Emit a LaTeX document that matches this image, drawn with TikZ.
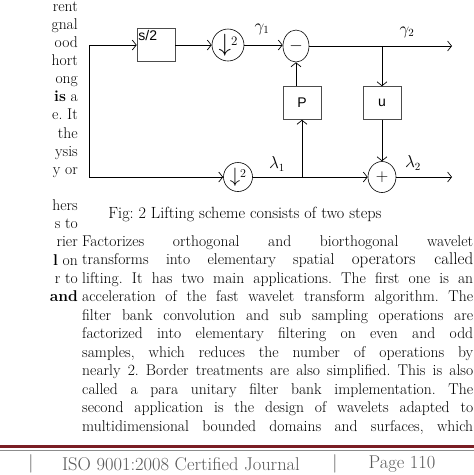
\documentclass[tikz,border=0pt]{standalone}
\usepackage{fontspec}
\newfontfamily\arialf{Liberation Sans}
\usetikzlibrary{shapes.geometric, arrows.meta, positioning, calc}
\definecolor{footred}{RGB}{122,30,36}
\definecolor{footgray}{RGB}{88,88,88}
\definecolor{rulegray}{RGB}{140,140,140}
\frenchspacing

\begin{document}
\begin{tikzpicture}[
        x=1pt, y=-1pt,
        box/.style={rectangle, draw=black!70, line width=0.6pt, minimum width=38pt, minimum height=33pt, inner sep=0pt, font=\arialf\fontsize{14}{14}\selectfont},
        samp/.style={circle, draw, line width=0.6pt, inner sep=0pt},
        sumnode/.style={ellipse, draw, line width=0.6pt, inner sep=0pt},
        arrow/.style={-{Straight Barb[length=4pt,width=10pt]}, line width=0.7pt},
        wire/.style={line width=0.7pt},
        sig/.style={font=\fontsize{16}{16}\selectfont, inner sep=0pt},
        txt/.style={font=\fontsize{15.6}{15.6}\selectfont, inner sep=0pt},
        foot/.style={font=\fontsize{18.5}{18.5}\selectfont, text=footgray, inner sep=0pt}
    ]
        \useasboundingbox (0,0) rectangle (474,475);

        % Left column, cut off at the page edge
        \begin{scope}
            \clip (0,0) rectangle (80,475);
            \foreach \t [count=\i from 0] in {{rent}, {gnal}, {ood}, {hort}, {ong}, {\textbf{is} a}, {e. It}, {the}, {ysis}, {y or}, {}, {hers}, {s to}, {rier}, {\textbf{l} on}, {r to}, {\textbf{and}}}
                \node[txt, anchor=base east] (left\i) at (78, 11+18.15*\i) {\t};
        \end{scope}

        % Split
        \coordinate (in) at (89,45);
        \coordinate (inlow) at (89,177);
        \draw[wire] (in) -- (inlow);
        \node[box] (half) at (156,45) {};
        \node[anchor=north west, inner sep=1.5pt, font=\arialf\fontsize{14}{14}\selectfont] (halflbl) at (half.north west) {s/2};
        \draw[arrow] (in) -- (half.west);

        % Down sampling
        \node[samp, minimum size=32pt] (ds1) at (228,45) {\fontsize{24}{24}\selectfont$\downarrow$\raisebox{6pt}{\fontsize{13}{13}\selectfont 2}};
        \node[samp, minimum size=29pt] (ds2) at (238,177) {\fontsize{22}{22}\selectfont$\downarrow$\raisebox{5pt}{\fontsize{12}{12}\selectfont 2}};
        \draw[arrow] (half.east) -- (ds1.west);
        \draw[arrow] (inlow) -- (ds2.west);

        % Predict
        \node[sumnode, minimum width=26pt, minimum height=32pt] (sub) at (296,46) {\fontsize{16}{16}\selectfont$-$};
        \node[box] (pred) at (302,103) {P};
        \draw[arrow] (ds1.east) -- (sub.west |- ds1.east);
        \node[sig] (g1) at (262,29) {$\gamma_1$};
        \coordinate (br2) at (pred |- ds2);
        \draw[arrow] (br2) -- (pred.south);
        \draw[arrow] (pred.north -| sub.south) -- (sub.south);

        % Update
        \node[box] (upd) at (382,103) {u};
        \node[sumnode, minimum width=28pt, minimum height=31pt] (add) at (382,177) {\fontsize{16}{16}\selectfont$+$};
        \coordinate (br1) at (upd |- sub);
        \coordinate (out1) at (452,46);
        \coordinate (out2) at (452,177);
        \draw[arrow] (sub.east) -- (out1);
        \draw[arrow] (br1) -- (upd.north);
        \draw[arrow] (upd.south) -- (add.north);
        \draw[arrow] (ds2.east) -- (add.west);
        \draw[arrow] (add.east) -- (out2);
        \node[sig] (g2) at (407,32) {$\gamma_2$};
        \node[sig] (l1) at (277,164) {$\lambda_1$};
        \node[sig] (l2) at (413,163) {$\lambda_2$};

        % Caption
        \node[txt, font=\fontsize{16.2}{16.2}\selectfont] (cap) at (245,214) {Fig: 2 Lifting scheme consists of two steps};

        % Body text
        \foreach \t [count=\i from 0] in {
            {Factorizes orthogonal and biorthogonal wavelet},
            {transforms into elementary spatial {\fontsize{17}{17}\selectfont operators called}},
            {lifting. It has two main applications. The first one is an},
            {acceleration of the fast wavelet transform algorithm. The},
            {filter bank convolution and sub sampling operations are},
            {factorized into elementary filtering on even and odd},
            {samples, which reduces the number of operations by},
            {nearly 2. Border treatments are also simplified. This is also},
            {called a para unitary filter bank implementation. The},
            {second application is the design of wavelets adapted to},
            {multidimensional bounded domains and surfaces, which}}
            \node[txt, anchor=base west] (body\i) at (82, 246+18.5*\i) {\makebox[391pt][s]{\t}};

        % Footer
        \draw[line width=3pt, footred] (0,446) -- (474,446);
        \draw[line width=1.2pt, rulegray] (0,450.5) -- (474,450.5);
        \node[foot] (bar1) at (31,464) {|};
        \node[foot] (journal) at (181,464) {ISO 9001:2008 Certified Journal};
        \node[foot] (bar2) at (335,464) {|};
        \node[foot] (page) at (402,464) {Page 110};
    \end{tikzpicture}
\end{document}
